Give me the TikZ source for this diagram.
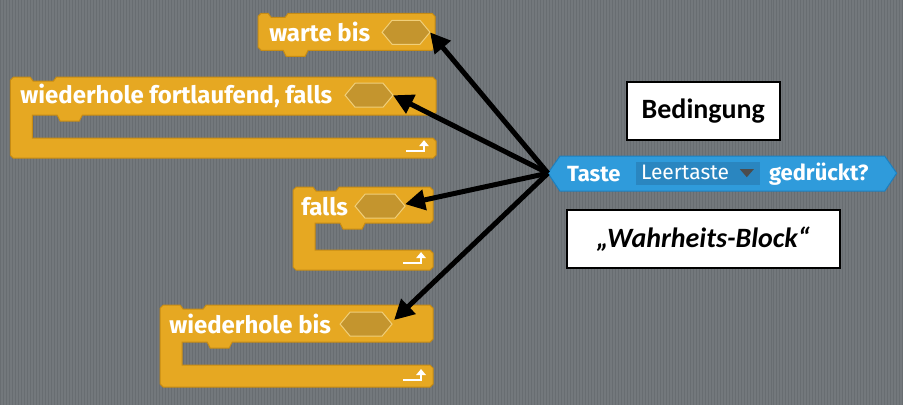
\documentclass[tikz,border=0pt]{standalone}
\usepackage{fontspec}
\setmainfont{Carlito}
\newfontfamily\scratchfont{Fira Sans}
\usetikzlibrary{arrows.meta}
\definecolor{bg}{HTML}{73787C}
\definecolor{bgline}{HTML}{686D71}
\definecolor{ctrl}{HTML}{E6A822}
\definecolor{ctrledge}{HTML}{C68B14}
\definecolor{hexfill}{HTML}{C4952E}
\definecolor{hexedge}{HTML}{F0CF7A}
\definecolor{sens}{HTML}{2F9BDB}
\definecolor{sensedge}{HTML}{1F7FBD}
\definecolor{dropfill}{HTML}{2A86C0}
\tikzset{
  block/.style={fill=ctrl, draw=ctrledge, line width=1pt},
  blocktext/.style={font=\scratchfont\bfseries\fontsize{24}{24}\selectfont, text=white, inner sep=0pt, anchor=west},
  slot/.style={fill=hexfill, draw=hexedge, line width=1pt},
  label box/.style={draw=black, fill=white, line width=1.5pt, inner sep=0pt},
  pointer/.style={-{Triangle[length=20pt,width=20pt]}, line width=5pt, black}
}
% stack block: left, right, top, bottom
\newcommand{\stackblock}[4]{%
  \draw[block] (#1,#3+3) -- (#1+3,#3) -- (#1+10,#3) -- (#1+13,#3+4) -- (#1+27,#3+4) -- (#1+30,#3)
    -- (#2-3,#3) -- (#2,#3+3) -- (#2,#4-3) -- (#2-3,#4) -- (#1+50,#4) -- (#1+47,#4+6)
    -- (#1+28,#4+6) -- (#1+25,#4) -- (#1+3,#4) -- (#1,#4-3) -- cycle;}
% c block: left, right, top, header bottom, inner bottom, bottom
\newcommand{\cblock}[6]{%
  \draw[block] (#1,#3+3) -- (#1+3,#3) -- (#1+20,#3) -- (#1+23,#3+4) -- (#1+43,#3+4) -- (#1+46,#3)
    -- (#2-3,#3) -- (#2,#3+3) -- (#2,#4-3) -- (#2-3,#4)
    -- (#1+72,#4) -- (#1+69,#4+6) -- (#1+50,#4+6) -- (#1+47,#4) -- (#1+22,#4)
    -- (#1+22,#5) -- (#2-3,#5) -- (#2,#5+3) -- (#2,#6-3) -- (#2-3,#6)
    -- (#1+3,#6) -- (#1,#6-3) -- cycle;
  \draw[white, line width=2.5pt] (#2-30,#6-7) -- (#2-12,#6-7) -- (#2-12,#6-13);
  \fill[white] (#2-17,#6-12) -- (#2-12,#6-18) -- (#2-7,#6-12) -- cycle;}
% hexagon slot: left, right, centre y
\newcommand{\hexslot}[3]{%
  \draw[slot] (#1,#3) -- (#1+10,#3-12) -- (#2-10,#3-12) -- (#2,#3) -- (#2-10,#3+12) -- (#1+10,#3+12) -- cycle;}

\begin{document}
\begin{tikzpicture}[x=1pt, y=-1pt]
% Background
    \fill[bg] (0,0) rectangle (903,405);
    \foreach \i in {0,3,...,903} \draw[bgline, line width=0.6pt] (\i,0) -- (\i,405);
    \useasboundingbox (0,0) rectangle (903,405);
% Blocks
    \stackblock{258}{435}{13}{50}
    \node[blocktext] (wait) at (269,32) {warte bis};
    \hexslot{382}{430}{32}
    \coordinate (slotwait) at (430,32);
    \cblock{10}{436}{77}{115}{138}{158}
    \node[blocktext] (forever) at (20,96) {wiederhole fortlaufend, falls};
    \hexslot{345}{393}{95}
    \coordinate (slotforever) at (393,95);
    \cblock{293}{433}{187}{223}{250}{270}
    \node[blocktext] (if) at (301,206) {falls};
    \hexslot{355}{405}{206}
    \coordinate (slotif) at (405,204);
    \cblock{160}{433}{305}{342}{365}{387}
    \node[blocktext] (until) at (169,324) {wiederhole bis};
    \hexslot{340}{392}{324}
    \coordinate (slotuntil) at (394,320);
% Condition block
    \draw[fill=sens, draw=sensedge, line width=1pt] (548,173) -- (560,156) -- (885,156) -- (897,173) -- (885,191) -- (560,191) -- cycle;
    \coordinate (cond) at (548,173);
    \fill[dropfill] (636,162) rectangle (760,185);
    \node[blocktext, font=\scratchfont\bfseries\fontsize{22}{22}\selectfont] (taste) at (567,174) {Taste};
    \node[blocktext, font=\scratchfont\fontsize{21}{21}\selectfont] (key) at (641,172) {Leertaste};
    \fill[black!70] (740,169) -- (754,169) -- (747,177) -- cycle;
    \node[blocktext, font=\scratchfont\bfseries\fontsize{22}{22}\selectfont] (pressed) at (769,174) {gedrückt?};
% Labels
    \node[label box, minimum width=153pt, minimum height=58pt, font=\bfseries\fontsize{28}{28}\selectfont] (name) at (703.5,111) {Bedingung};
    \node[label box, minimum width=273pt, minimum height=58pt, font=\bfseries\itshape\fontsize{28}{28}\selectfont] (kind) at (703.5,239) {„Wahrheits-Block“};
% Arrows
    \draw[pointer] (cond) -- (slotwait);
    \draw[pointer] (cond) -- (slotforever);
    \draw[pointer] (cond) -- (slotif);
    \draw[pointer] (cond) -- (slotuntil);
\end{tikzpicture}
\end{document}
